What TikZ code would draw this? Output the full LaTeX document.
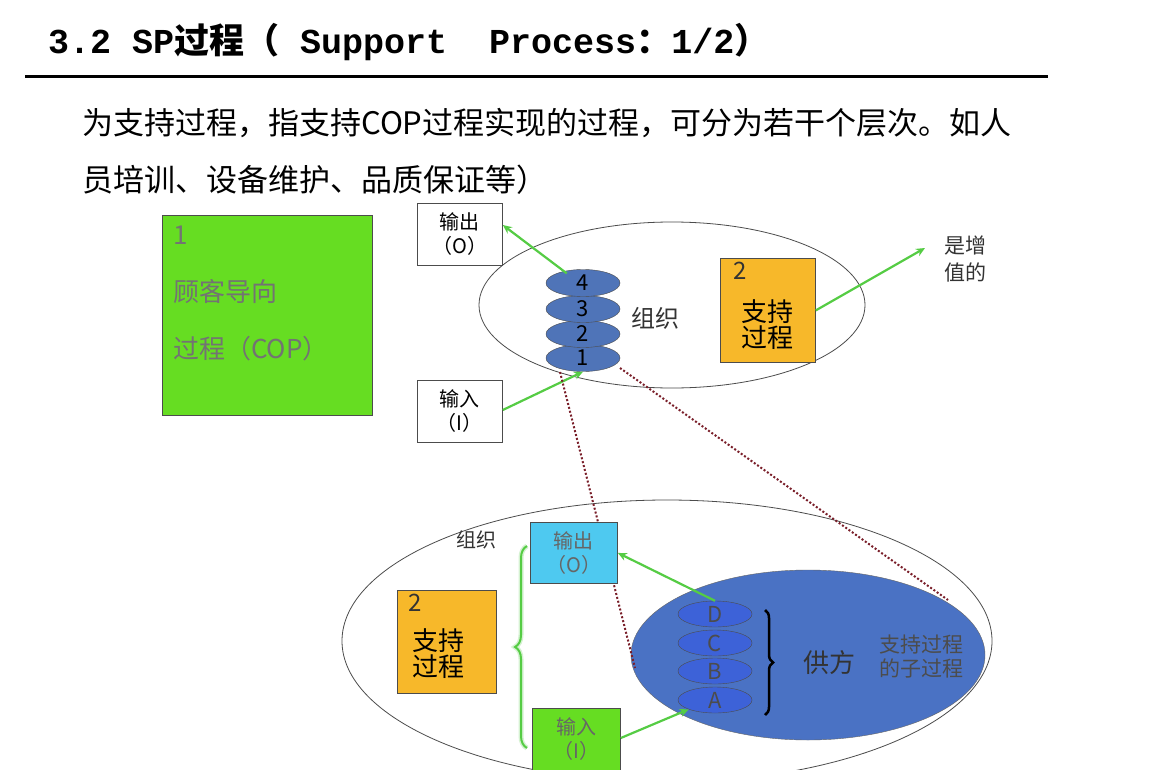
\documentclass[tikz,border=0pt]{standalone}
\usepackage{fontspec}
\setmainfont{Noto Sans CJK SC}
\newfontfamily\mono{Liberation Mono}
\usetikzlibrary{decorations.pathreplacing,arrows.meta,shapes.geometric}
\definecolor{gbox}{HTML}{66DD22}
\definecolor{ybox}{HTML}{F7B82A}
\definecolor{cbox}{HTML}{4EC9F0}
\definecolor{blu}{HTML}{4F74B8}
\definecolor{bigb}{HTML}{4A72C4}
\definecolor{smb}{HTML}{3D62D8}
\definecolor{arr}{HTML}{55CC44}
\definecolor{dred}{HTML}{7A1F2A}
\tikzset{
 box/.style={draw=black!70,line width=0.8pt,inner sep=0pt,align=center},
 lay/.style={ellipse,draw=black!70,fill=blu,minimum width=74,minimum height=27,inner sep=0pt,font=\fontsize{22}{22}\selectfont},
 lay2/.style={ellipse,draw=black!70,fill=smb,minimum width=74,minimum height=26,inner sep=0pt,font=\fontsize{22}{22}\selectfont,text=black!70},
 garr/.style={draw=arr,line width=2.2pt,-{Stealth[length=9pt,width=8pt]}},
 dots/.style={draw=dred,line width=2pt,dotted},
 txt/.style={inner sep=0pt,font=\fontsize{19}{22}\selectfont,align=left,text=black!80},
 twoline/.style={inner sep=0pt,align=center,font=\fontsize{26}{26}\selectfont}
}
\begin{document}
\begin{tikzpicture}[x=1pt,y=-1pt]
\useasboundingbox (0,0) rectangle (1158,770);
\fill[white] (0,0) rectangle (1158,770);
\node[anchor=west,inner sep=0pt,font=\fontsize{35}{35}\selectfont\bfseries] (title) at (48,42) {{\mono\bfseries 3.2 SP}过程（{\mono\bfseries\ Support\ \ Process}：{\mono\bfseries 1/2}）};
\draw[line width=3pt] (25,77) coordinate (l1) -- (1048,77) coordinate (l2);
\node[anchor=west,inner sep=0pt,font=\fontsize{31}{31}\selectfont] (t1) at (82,123) {为支持过程，指支持COP过程实现的过程，可分为若干个层次。如人};
\node[anchor=west,inner sep=0pt,font=\fontsize{31}{31}\selectfont] (t2) at (82,180) {员培训、设备维护、品质保证等）};
% COP box
\node[box,fill=gbox,minimum width=210,minimum height=200,anchor=north west] (cop) at (162,215) {};
\node[txt,anchor=north west,font=\fontsize{26}{57}\selectfont,text=black!55] (copt) at (173,226) {1\\顾客导向\\过程（COP）};
% top ellipse
\node[ellipse,draw=black!70,line width=0.8pt,minimum width=386,minimum height=166] (te) at (672,305) {};
\node[lay] (s1) at (583,358) {1};
\node[lay] (s2) at (583,334) {2};
\node[lay] (s3) at (583,309) {3};
\node[lay] (s4) at (583,283) {4};
\node[txt,font=\fontsize{24}{24}\selectfont] (org) at (655,318) {组织};
\node[box,fill=ybox,minimum width=95,minimum height=104,anchor=north west] (yb) at (720,258) {};
\node[txt,anchor=north west,font=\fontsize{24}{24}\selectfont] (yb2) at (733,262) {2};
\node[twoline,anchor=north] (ybt) at (767,299) {支持\\过程};
\node[box,minimum width=85,minimum height=62,anchor=north west,font=\fontsize{20}{24}\selectfont] (out1) at (417,203) {输出\\（O）};
\node[box,minimum width=85,minimum height=62,anchor=north west,font=\fontsize{20}{24}\selectfont] (in1) at (417,380) {输入\\（I）};
\node[txt,font=\fontsize{21}{27}\selectfont] (zz) at (965,259) {是增\\值的};
\draw[garr] (s4.north west) ++(10,0) -- (out1.north east |- 0,225);
\draw[garr] (in1.east |- 0,410) -- (s1.south);
\draw[garr] (yb.east) -- (925,248) coordinate (zzc);
% bottom ellipse
\node[ellipse,draw=black!70,line width=0.8pt,minimum width=650,minimum height=282] (be) at (667,641) {};
\node[ellipse,draw=black!60,fill=bigb,minimum width=354,minimum height=170] (bb) at (808,655) {};
\coordinate (d1) at (560,372); \coordinate (d2) at (635,668);
\coordinate (d3) at (620,368); \coordinate (d4) at (948,600);
\draw[dots] (d1) -- (d2);
\draw[dots] (d3) -- (d4);
\node[lay2] (sa) at (715,700) {A};
\node[lay2] (sb) at (715,671) {B};
\node[lay2] (sc) at (715,643) {C};
\node[lay2] (sd) at (715,614) {D};
\draw[line width=2.5pt,decorate,decoration={brace,amplitude=8pt}] (765,610) coordinate (br1) -- (765,715) coordinate (br2);
\node[txt,font=\fontsize{26}{26}\selectfont] (gf) at (829,663) {供方};
\node[txt,font=\fontsize{21}{24}\selectfont,text=black!70,align=center] (zc) at (921,657) {支持过程\\的子过程};
\node[box,fill=cbox,minimum width=87,minimum height=61,anchor=north west,font=\fontsize{20}{24}\selectfont,text=black!60] (out2) at (530,522) {输出\\（O）};
\node[box,fill=gbox,minimum width=88,minimum height=62,anchor=north west,font=\fontsize{20}{24}\selectfont,text=black!60] (in2) at (532,708) {输入\\（I）};
\node[box,fill=ybox,minimum width=99,minimum height=103,anchor=north west] (yb3) at (397,590) {};
\node[txt,anchor=north west,font=\fontsize{24}{24}\selectfont] (yb4) at (408,594) {2};
\node[twoline,anchor=north] (yb5) at (438,628) {支持\\过程};
\node[txt,font=\fontsize{20}{20}\selectfont] (org2) at (476,540) {组织};
\draw[arr!70,line width=5pt,opacity=0.35,decorate,decoration={brace,amplitude=12pt,mirror}] (527,546) -- (527,748);
\draw[arr,line width=2pt,decorate,decoration={brace,amplitude=12pt,mirror}] (527,546) coordinate (gb1) -- (527,748) coordinate (gb2);
\draw[garr] (sd.north) -- (out2.east);
\draw[garr] (in2.east |- 0,738) -- (sa.south west);
\end{tikzpicture}
\end{document}
